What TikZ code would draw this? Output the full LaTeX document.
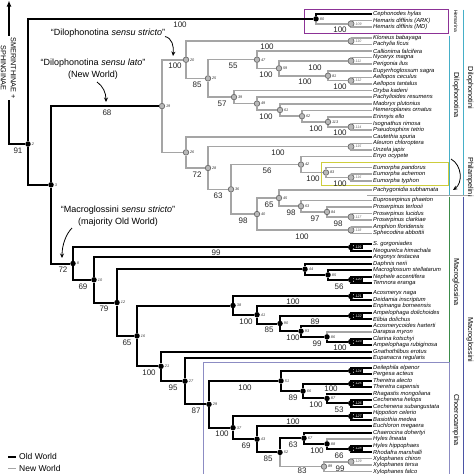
\documentclass[tikz,border=0pt]{standalone}
\usepackage{fontspec}
\setmainfont{Liberation Sans}
\usetikzlibrary{arrows.meta}
\definecolor{gr}{RGB}{165,165,165}
\definecolor{grdark}{RGB}{105,105,105}
\definecolor{grfill}{RGB}{185,185,185}
\definecolor{hemc}{RGB}{140,50,150}
\definecolor{cyanc}{RGB}{70,175,200}
\definecolor{greenc}{RGB}{60,140,75}
\definecolor{bluec}{RGB}{75,85,165}
\definecolor{choc}{RGB}{140,140,195}
\definecolor{eumc}{RGB}{205,205,60}
\newcommand{\bnd}[4]{\node[bdot,label={[nnum]right:#4}] (#1) at (#2,#3) {};}
\newcommand{\gnd}[4]{\node[gdot,label={[nnum]right:#4}] (#1) at (#2,#3) {};}
\newcommand{\bpr}[4]{\node[bpdot,label={[bflag]right:#4}] (#1) at (#2,#3) {};}
\newcommand{\gpr}[4]{\node[gpdot,label={[gflag]right:#4}] (#1) at (#2,#3) {};}
\newcommand{\tipn}[3]{\node[tiplab] (#1) at (371.5,#2) {#3};}
\newcommand{\edB}[2]{\draw[blk] (#1) |- (#2);}
\newcommand{\edG}[2]{\draw[gry] (#1) |- (#2);}
\newcommand{\bsv}[4]{\node[bsl] (#1) at (#2,#3) {#4};}
\begin{document}
\begin{tikzpicture}[x=1pt,y=-1pt,
  blk/.style={line width=2pt,black},
  gry/.style={line width=1.5pt,gr},
  bdot/.style={circle,fill=black,inner sep=0pt,minimum size=5.5pt},
  bpdot/.style={circle,fill=black,inner sep=0pt,minimum size=6pt},
  gdot/.style={circle,fill=grfill,draw=grdark,line width=0.7pt,inner sep=0pt,minimum size=5.5pt},
  gpdot/.style={circle,fill=grfill,draw=grdark,line width=0.7pt,inner sep=0pt,minimum size=6pt},
  nnum/.style={font=\fontsize{3.8}{4}\selectfont\itshape,text=black!80,inner xsep=0.8pt,inner ysep=0.3pt},
  bflag/.style={fill=black,text=white,font=\fontsize{3.6}{4}\selectfont\itshape,inner xsep=1.2pt,inner ysep=0.6pt},
  gflag/.style={text=grdark,font=\fontsize{3.6}{4}\selectfont\itshape,inner xsep=1pt,inner ysep=0.5pt},
  tiplab/.style={anchor=west,font=\fontsize{5.8}{6}\selectfont\itshape,inner xsep=1.5pt,inner ysep=0.5pt},
  bsl/.style={font=\fontsize{8}{9}\selectfont,text=black!85,inner sep=0pt},
  ann/.style={font=\fontsize{9}{10}\selectfont,inner sep=0pt},
  clade/.style={font=\fontsize{7.3}{8}\selectfont,rotate=-90,inner sep=0pt},
  arr/.style={line width=0.8pt,-{Stealth[length=4.5pt,width=4pt]}}]
\useasboundingbox (0,0) rectangle (474,474);
\fill[white] (0,0) rectangle (474,474);

% ---- clade boxes and bars
\draw[hemc,line width=0.9pt] (304,9.5) rectangle (448,33.5);
\draw[eumc,line width=0.9pt] (321,162.5) rectangle (448,185.5);
\draw[cyanc,line width=0.9pt] (449,35.5) -- (449,195);
\draw[cyanc,line width=0.9pt] (463,9.5) -- (463,195);
\draw[gr,line width=0.8pt] (367,195.1) -- (470,195.1);
\draw[greenc,line width=0.9pt] (449,196.5) -- (449,362.5);
\draw[bluec,line width=0.9pt] (463,196.5) -- (463,474);
\draw[choc,line width=0.9pt] (203,476) -- (203,362.5) -- (449,362.5) -- (449,476);
\node[clade,font=\fontsize{5}{6}\selectfont] (cHem) at (456,21) {Hemarina};
\node[clade] (cDna) at (456,95) {Dilophonotina};
\node[clade] (cDni) at (470,88) {Dilophonotini};
\node[clade] (cPhi) at (470,177) {Philampelini};
\node[clade] (cMna) at (456,282) {Macroglossina};
\node[clade] (cMni) at (470,340) {Macroglossini};
\node[clade] (cCho) at (456,420) {Choerocampina};
\coordinate (pa1) at (451,159);
\coordinate (pa2) at (453,190);
\draw[arr] (pa1) .. controls (462,165) and (463,183) .. (pa2);

% ---- internal nodes
\bnd{n2}{28}{144}{2}
\bnd{n3}{51}{184.8}{3}
\bnd{n80}{316}{18.9}{80}
\gpr{n109}{351}{23.8}{109}
\gnd{n19}{162}{106.1}{19}
\gnd{n20}{186}{59.75}{20}
\gpr{n110}{351}{41.1}{110}
\gnd{n25}{208}{78.4}{25}
\gnd{n47}{257}{59.7}{47}
\gnd{n59}{279}{68.3}{59}
\gpr{n111}{351}{60.9}{111}
\gnd{n81}{328}{75.75}{81}
\gpr{n112}{351}{80.7}{112}
\gnd{n39}{234}{97.1}{39}
\gnd{n49}{257}{103.6}{49}
\gnd{n61}{280}{110.0}{61}
\gnd{n62}{302}{116.2}{62}
\gnd{n113}{328}{121.95}{113}
\gpr{n114}{351}{126.9}{114}
\gnd{n26}{186}{152.4}{26}
\gnd{n28}{208}{168.0}{28}
\gpr{n115}{351}{146.7}{115}
\gnd{n36}{231}{189.3}{36}
\gnd{n42}{301}{164.6}{42}
\gnd{n83}{326}{172.55}{83}
\gpr{n116}{351}{177.5}{116}
\gnd{n40}{257}{214.05}{40}
\gnd{n45}{279}{198.0}{45}
\gnd{n63}{301}{206.2}{63}
\gnd{n84}{327}{211.95}{84}
\gpr{n117}{351}{216.9}{117}
\gpr{n118}{351}{230.1}{118}
\bnd{n8}{73}{263.5}{8}
\bpr{n119}{351}{247.25}{119}
\bnd{n10}{94}{279.8}{10}
\bnd{n12}{117}{302.55}{12}
\bnd{n44}{305}{269.2}{44}
\bnd{n85}{328}{274.9}{85}
\bpr{n120}{351}{279.75}{120}
\bnd{n16}{137}{335.9}{16}
\bnd{n38}{233}{305.5}{38}
\bpr{n121}{351}{296.25}{121}
\bnd{n41}{257}{314.75}{41}
\bnd{n90}{280}{323.5}{90}
\bpr{n122}{351}{315.75}{122}
\bnd{n93}{301}{331.2}{93}
\bnd{n86}{327}{336.9}{86}
\bpr{n123}{351}{341.75}{123}
\bnd{n21}{161}{366.3}{21}
\bnd{n27}{185}{381.15}{27}
\bnd{n29}{209}{404.3}{29}
\bnd{n51}{281}{380.9}{51}
\bpr{n124}{351}{370.75}{124}
\bnd{n66}{303}{391.1}{66}
\bpr{n125}{351}{383.75}{125}
\bnd{n87}{327}{398.4}{87}
\bpr{n126}{351}{403.25}{126}
\bnd{n37}{233}{427.7}{37}
\bpr{n127}{351}{416.25}{127}
\bnd{n43}{257}{439.2}{43}
\bnd{n52}{280}{452.4}{52}
\bnd{n67}{304}{438.2}{67}
\bnd{n88}{327}{443.9}{88}
\bpr{n128}{351}{448.75}{128}
\gnd{n89}{324}{466.6}{89}
\gpr{n129}{351}{461.75}{129}

% ---- tips
\tipn{t1}{14.0}{Cephonodes hylas}
\tipn{t2}{20.6}{Hemaris diffinis (ARK)}
\tipn{t3}{27.2}{Hemaris diffinis (MD)}
\tipn{t4}{37.8}{Kloneus babayaga}
\tipn{t5}{44.4}{Pachylia ficus}
\tipn{t6}{51.0}{Callionima falcifera}
\tipn{t7}{57.6}{Nyceryx magna}
\tipn{t8}{64.2}{Perigonia ilus}
\tipn{t9}{70.8}{Eupyrrhoglossum sagra}
\tipn{t10}{77.4}{Aellopos ceculus}
\tipn{t11}{84.0}{Aellopos tantalus}
\tipn{t12}{90.6}{Oryba kadeni}
\tipn{t13}{97.2}{Pachylioides resumens}
\tipn{t14}{103.8}{Madoryx plutonius}
\tipn{t15}{110.4}{Hemeroplanes ornatus}
\tipn{t16}{117.0}{Erinnyis ello}
\tipn{t17}{123.6}{Isognathus rimosa}
\tipn{t18}{130.2}{Pseudosphinx tetrio}
\tipn{t19}{136.8}{Cautethia spuria}
\tipn{t20}{143.4}{Aleuron chloroptera}
\tipn{t21}{150.0}{Unzela japix}
\tipn{t22}{156.6}{Enyo ocypete}
\tipn{t23}{167.6}{Eumorpha pandorus}
\tipn{t24}{174.2}{Eumorpha achemon}
\tipn{t25}{180.8}{Eumorpha typhon}
\tipn{t26}{189.8}{Pachygonidia subhamata}
\tipn{t27}{200.4}{Euproserpinus phaeton}
\tipn{t28}{207.0}{Proserpinus terlooii}
\tipn{t29}{213.6}{Proserpinus lucidus}
\tipn{t30}{220.2}{Proserpinus clarkiae}
\tipn{t31}{226.8}{Amphion floridensis}
\tipn{t32}{233.4}{Sphecodina abbottii}
\tipn{t33}{244.0}{S. gorgoniades}
\tipn{t34}{250.5}{Neogurelca himachala}
\tipn{t35}{257.0}{Angonyx testacea}
\tipn{t36}{263.5}{Daphnis nerii}
\tipn{t37}{270.0}{Macroglossum stellatarum}
\tipn{t38}{276.5}{Nephele accentifera}
\tipn{t39}{283.0}{Temnora eranga}
\tipn{t40}{293.0}{Acosmeryx naga}
\tipn{t41}{299.5}{Deidamia inscriptum}
\tipn{t42}{306.0}{Enpinanga borneensis}
\tipn{t43}{312.5}{Ampelophaga dolichoides}
\tipn{t44}{319.0}{Elibia dolichus}
\tipn{t45}{325.5}{Acosmerycoides harterti}
\tipn{t46}{332.0}{Darapsa myron}
\tipn{t47}{338.5}{Clarina kotschyi}
\tipn{t48}{345.0}{Ampelophaga rubiginosa}
\tipn{t49}{351.5}{Gnathothlibus erotus}
\tipn{t50}{358.0}{Eupanacra regularis}
\tipn{t51}{367.5}{Deilephila elpenor}
\tipn{t52}{374.0}{Pergesa acteus}
\tipn{t53}{380.5}{Theretra alecto}
\tipn{t54}{387.0}{Theretra capensis}
\tipn{t55}{393.5}{Rhagastis mongoliana}
\tipn{t56}{400.0}{Cechenena helops}
\tipn{t57}{406.5}{Cechenena subangustata}
\tipn{t58}{413.0}{Hippotion celerio}
\tipn{t59}{419.5}{Basiothia medea}
\tipn{t60}{426.0}{Euchloron megaera}
\tipn{t61}{432.5}{Chaerocina dohertyi}
\tipn{t62}{439.0}{Hyles lineata}
\tipn{t63}{445.5}{Hyles hippophaes}
\tipn{t64}{452.0}{Rhodafra marshalli}
\tipn{t65}{458.5}{Xylophanes chiron}
\tipn{t66}{465.0}{Xylophanes tersa}
\tipn{t67}{471.5}{Xylophanes falco}

% ---- gray (New World) edges
\edG{n80}{n109} \edG{n109}{t2} \edG{n109}{t3}
\edG{n19}{n20} \edG{n20}{n110} \edG{n110}{t4} \edG{n110}{t5}
\edG{n20}{n25} \edG{n25}{n47} \edG{n47}{t6} \edG{n47}{n59}
\edG{n59}{n111} \edG{n111}{t7} \edG{n111}{t8}
\edG{n59}{n81} \edG{n81}{t9} \edG{n81}{n112} \edG{n112}{t10} \edG{n112}{t11}
\edG{n25}{n39} \edG{n39}{t12} \edG{n39}{n49} \edG{n49}{t13} \edG{n49}{n61}
\edG{n61}{t14} \edG{n61}{n62} \edG{n62}{t15} \edG{n62}{n113} \edG{n113}{t16}
\edG{n113}{n114} \edG{n114}{t17} \edG{n114}{t18}
\edG{n19}{n26} \edG{n26}{t19} \edG{n26}{n28} \edG{n28}{n115} \edG{n115}{t20} \edG{n115}{t21}
\edG{n28}{n36} \edG{n36}{n42} \edG{n42}{t22} \edG{n42}{n83} \edG{n83}{t23}
\edG{n83}{n116} \edG{n116}{t24} \edG{n116}{t25}
\edG{n36}{n40} \edG{n40}{n45} \edG{n45}{t26} \edG{n45}{n63} \edG{n63}{t27}
\edG{n63}{n84} \edG{n84}{t28} \edG{n84}{n117} \edG{n117}{t29} \edG{n117}{t30}
\edG{n40}{n118} \edG{n118}{t31} \edG{n118}{t32}
\edG{n86}{t46} \edG{n88}{t62}
\edG{n52}{n89} \edG{n89}{n129} \edG{n129}{t65} \edG{n129}{t66} \edG{n89}{t67}

% ---- black (Old World) edges
\coordinate (og) at (9,144);
\coordinate (ogtop) at (9,0.5);
\draw[blk,-{Latex[length=6pt,width=5pt]}] (n2) -- (og) -- (ogtop);
\node[font=\fontsize{7.3}{10}\selectfont,rotate=-90,align=center,fill=white,inner sep=1pt] (smt) at (8.5,68) {SMERINTHINAE +\\SPHINGINAE};
\edB{n2}{n80} \edB{n2}{n3} \edB{n80}{t1}
\edB{n3}{n19} \edB{n3}{n8}
\edB{n8}{n119} \edB{n119}{t33} \edB{n119}{t34}
\edB{n8}{n10} \edB{n10}{t35} \edB{n10}{n12}
\edB{n12}{n44} \edB{n44}{t36} \edB{n44}{n85} \edB{n85}{t37} \edB{n85}{n120}
\edB{n120}{t38} \edB{n120}{t39}
\edB{n12}{n16} \edB{n16}{n38} \edB{n38}{n121} \edB{n121}{t40} \edB{n121}{t41}
\edB{n38}{n41} \edB{n41}{t42} \edB{n41}{n90} \edB{n90}{n122} \edB{n122}{t43} \edB{n122}{t44}
\edB{n90}{n93} \edB{n93}{t45} \edB{n93}{n86} \edB{n86}{n123} \edB{n123}{t47} \edB{n123}{t48}
\edB{n16}{n21} \edB{n21}{t49} \edB{n21}{n27} \edB{n27}{t50} \edB{n27}{n29}
\edB{n29}{n51} \edB{n51}{n124} \edB{n124}{t51} \edB{n124}{t52}
\edB{n51}{n66} \edB{n66}{n125} \edB{n125}{t53} \edB{n125}{t54}
\edB{n66}{n87} \edB{n87}{t55} \edB{n87}{n126} \edB{n126}{t56} \edB{n126}{t57}
\edB{n29}{n37} \edB{n37}{n127} \edB{n127}{t58} \edB{n127}{t59}
\edB{n37}{n43} \edB{n43}{t60} \edB{n43}{n52} \edB{n52}{n67} \edB{n67}{t61}
\edB{n67}{n88} \edB{n88}{n128} \edB{n128}{t63} \edB{n128}{t64}

% ---- bootstrap values
\bsv{b1}{180}{25}{100}
\bsv{b2}{340}{29.3}{100}
\bsv{b3}{267}{46.8}{100}
\bsv{b4}{175}{66.2}{100}
\bsv{b5}{233}{66.2}{55}
\bsv{b6}{266}{74.8}{100}
\bsv{b7}{315}{67.4}{100}
\bsv{b8}{305}{82.2}{100}
\bsv{b9}{340}{86.8}{100}
\bsv{b10}{197}{84.9}{85}
\bsv{b11}{222}{103.6}{57}
\bsv{b12}{266}{116.5}{100}
\bsv{b13}{316}{128.4}{100}
\bsv{b14}{340}{132.8}{100}
\bsv{b15}{107}{112.6}{68}
\bsv{b16}{18}{151}{91}
\bsv{b17}{197}{174.5}{72}
\bsv{b18}{278}{153.2}{100}
\bsv{b19}{218}{195.8}{63}
\bsv{b20}{267}{171.1}{56}
\bsv{b21}{313}{179}{100}
\bsv{b22}{340}{184}{100}
\bsv{b23}{243}{220.5}{98}
\bsv{b24}{269}{204.5}{65}
\bsv{b25}{291}{212.7}{98}
\bsv{b26}{315}{218.5}{97}
\bsv{b27}{338}{223.4}{98}
\bsv{b28}{302}{236.6}{100}
\bsv{b29}{63}{270}{72}
\bsv{b30}{216}{252.8}{99}
\bsv{b31}{83}{286.3}{69}
\bsv{b32}{104}{309}{79}
\bsv{b33}{127}{342.4}{65}
\bsv{b34}{339}{286.25}{56}
\bsv{b35}{293}{301.8}{100}
\bsv{b36}{246}{321.25}{100}
\bsv{b37}{269}{330}{85}
\bsv{b38}{315}{321.5}{89}
\bsv{b39}{293}{337.7}{100}
\bsv{b40}{317}{343.4}{99}
\bsv{b41}{340}{347.8}{100}
\bsv{b42}{149}{372.8}{100}
\bsv{b43}{173}{387.65}{95}
\bsv{b44}{196}{410.8}{87}
\bsv{b45}{245}{387.4}{100}
\bsv{b46}{293}{397.6}{89}
\bsv{b47}{331}{389}{100}
\bsv{b48}{316}{404.9}{100}
\bsv{b49}{339}{409.75}{53}
\bsv{b50}{222}{434.2}{100}
\bsv{b51}{293}{421.5}{100}
\bsv{b52}{246}{445.7}{69}
\bsv{b53}{268}{458.9}{85}
\bsv{b54}{293}{444.7}{63}
\bsv{b55}{317}{450.4}{100}
\bsv{b56}{339}{455.25}{66}
\bsv{b57}{302}{470.6}{83}
\bsv{b58}{340}{468.25}{99}

% ---- annotations
\node[ann] (an1) at (108,33) {“Dilophonotina \textit{sensu stricto}”};
\coordinate (a1s) at (165,36.5);
\coordinate (a1e) at (173,56);
\draw[arr] (a1s) .. controls (172,38) and (174,46) .. (a1e);
\node[ann] (an2) at (93,63) {“Dilophonotina \textit{sensu lato}”};
\node[ann] (an2b) at (93,75) {(New World)};
\coordinate (a2s) at (97,82);
\coordinate (a2e) at (106,102);
\draw[arr] (a2s) .. controls (103,86) and (106,93) .. (a2e);
\node[ann] (an3) at (118,210) {“Macroglossini \textit{sensu stricto}”};
\node[ann] (an3b) at (118,222) {(majority Old World)};
\coordinate (a3s) at (72,228);
\coordinate (a3e) at (62,258);
\draw[arr] (a3s) .. controls (66,234) and (62,245) .. (a3e);

% ---- legend
\coordinate (lg1a) at (8,456.5);
\coordinate (lg1b) at (16,456.5);
\coordinate (lg2a) at (8,468.5);
\coordinate (lg2b) at (16,468.5);
\draw[blk] (lg1a) -- (lg1b);
\draw[gry] (lg2a) -- (lg2b);
\node[anchor=west,font=\fontsize{8.5}{9}\selectfont,inner sep=0pt] (lgo) at (19,456.5) {Old World};
\node[anchor=west,font=\fontsize{8.5}{9}\selectfont,inner sep=0pt] (lgn) at (19,468.5) {New World};
\end{tikzpicture}
\end{document}
